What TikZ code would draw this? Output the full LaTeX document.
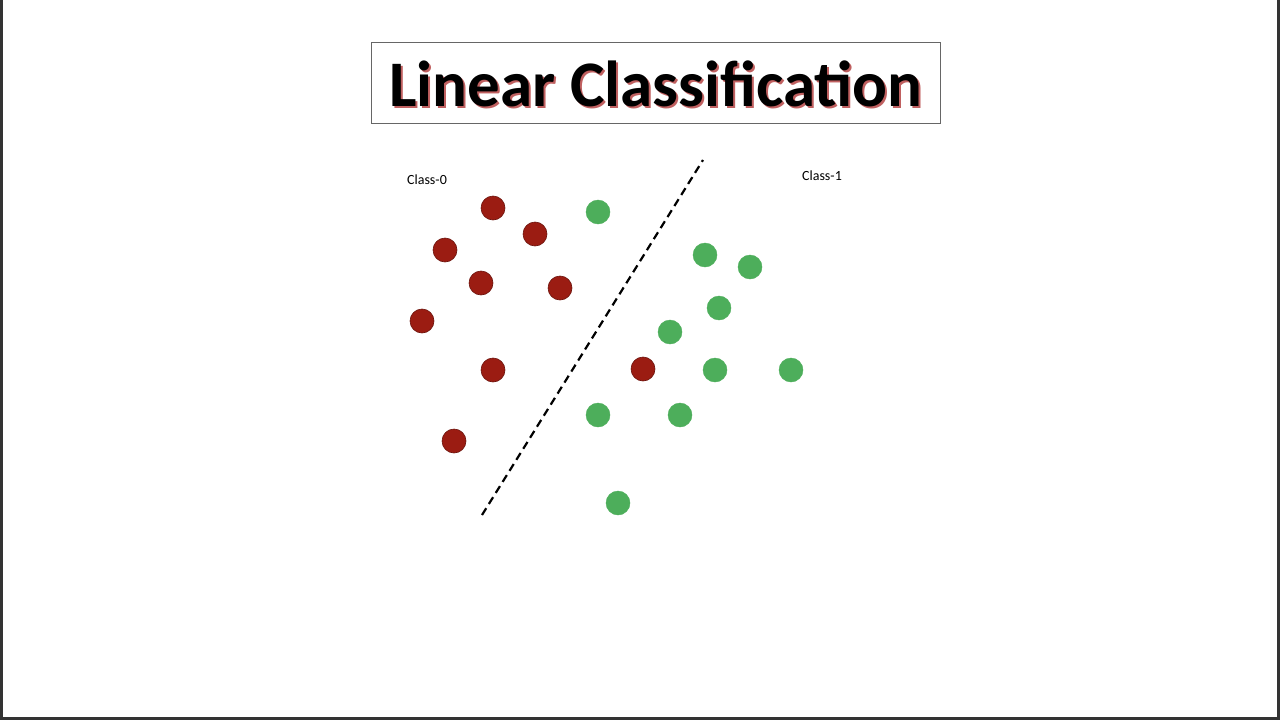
\documentclass[tikz,border=0pt]{standalone}
\usepackage{fontspec}
\setmainfont{Carlito}
\definecolor{dred}{HTML}{9B1C12}
\definecolor{dgreen}{HTML}{4DAE5B}
\definecolor{shadowred}{HTML}{C06060}
\begin{document}
\begin{tikzpicture}[x=1pt,y=-1pt,
  rdot/.style={circle,fill=dred,draw=dred!70!black,line width=0.6pt,minimum size=24pt,inner sep=0pt},
  gdot/.style={circle,fill=dgreen,draw=dgreen,minimum size=24pt,inner sep=0pt},
  lbl/.style={font=\fontsize{14}{16}\selectfont,inner sep=0pt}]
\useasboundingbox (0,0) rectangle (1280,720);
\fill[white] (0,0) rectangle (1280,720);
\fill[black!80] (0,0) rectangle (3,720);
\fill[black!80] (1277,0) rectangle (1280,720);
\fill[black!80] (0,717) rectangle (1280,720);
\node[draw=black!60,line width=1pt,minimum width=569pt,minimum height=81pt,anchor=north west] (tbox) at (371,42) {};
\node[font=\bfseries\fontsize{65}{70}\selectfont,text=shadowred] (tsh) at (658,86) {Linear Classification};
\node[font=\bfseries\fontsize{65}{70}\selectfont,text=black] (title) at (656,84) {Linear Classification};
\node[lbl] (c0) at (427,180) {Class-0};
\node[lbl] (c1) at (822,176) {Class-1};
\coordinate (la) at (482,515);
\coordinate (lb) at (703,160);
\draw[dashed,line width=2.2pt,dash pattern=on 8pt off 5pt] (la) -- (lb);
\foreach \x/\y [count=\i] in {493/208,535/234,445/250,481/283,560/288,422/321,493/370,643/369,454/441}
  \node[rdot] (r\i) at (\x,\y) {};
\foreach \x/\y [count=\i] in {598/212,705/255,750/267,719/308,670/332,715/370,791/370,598/415,680/415,618/503}
  \node[gdot] (g\i) at (\x,\y) {};
\end{tikzpicture}
\end{document}
